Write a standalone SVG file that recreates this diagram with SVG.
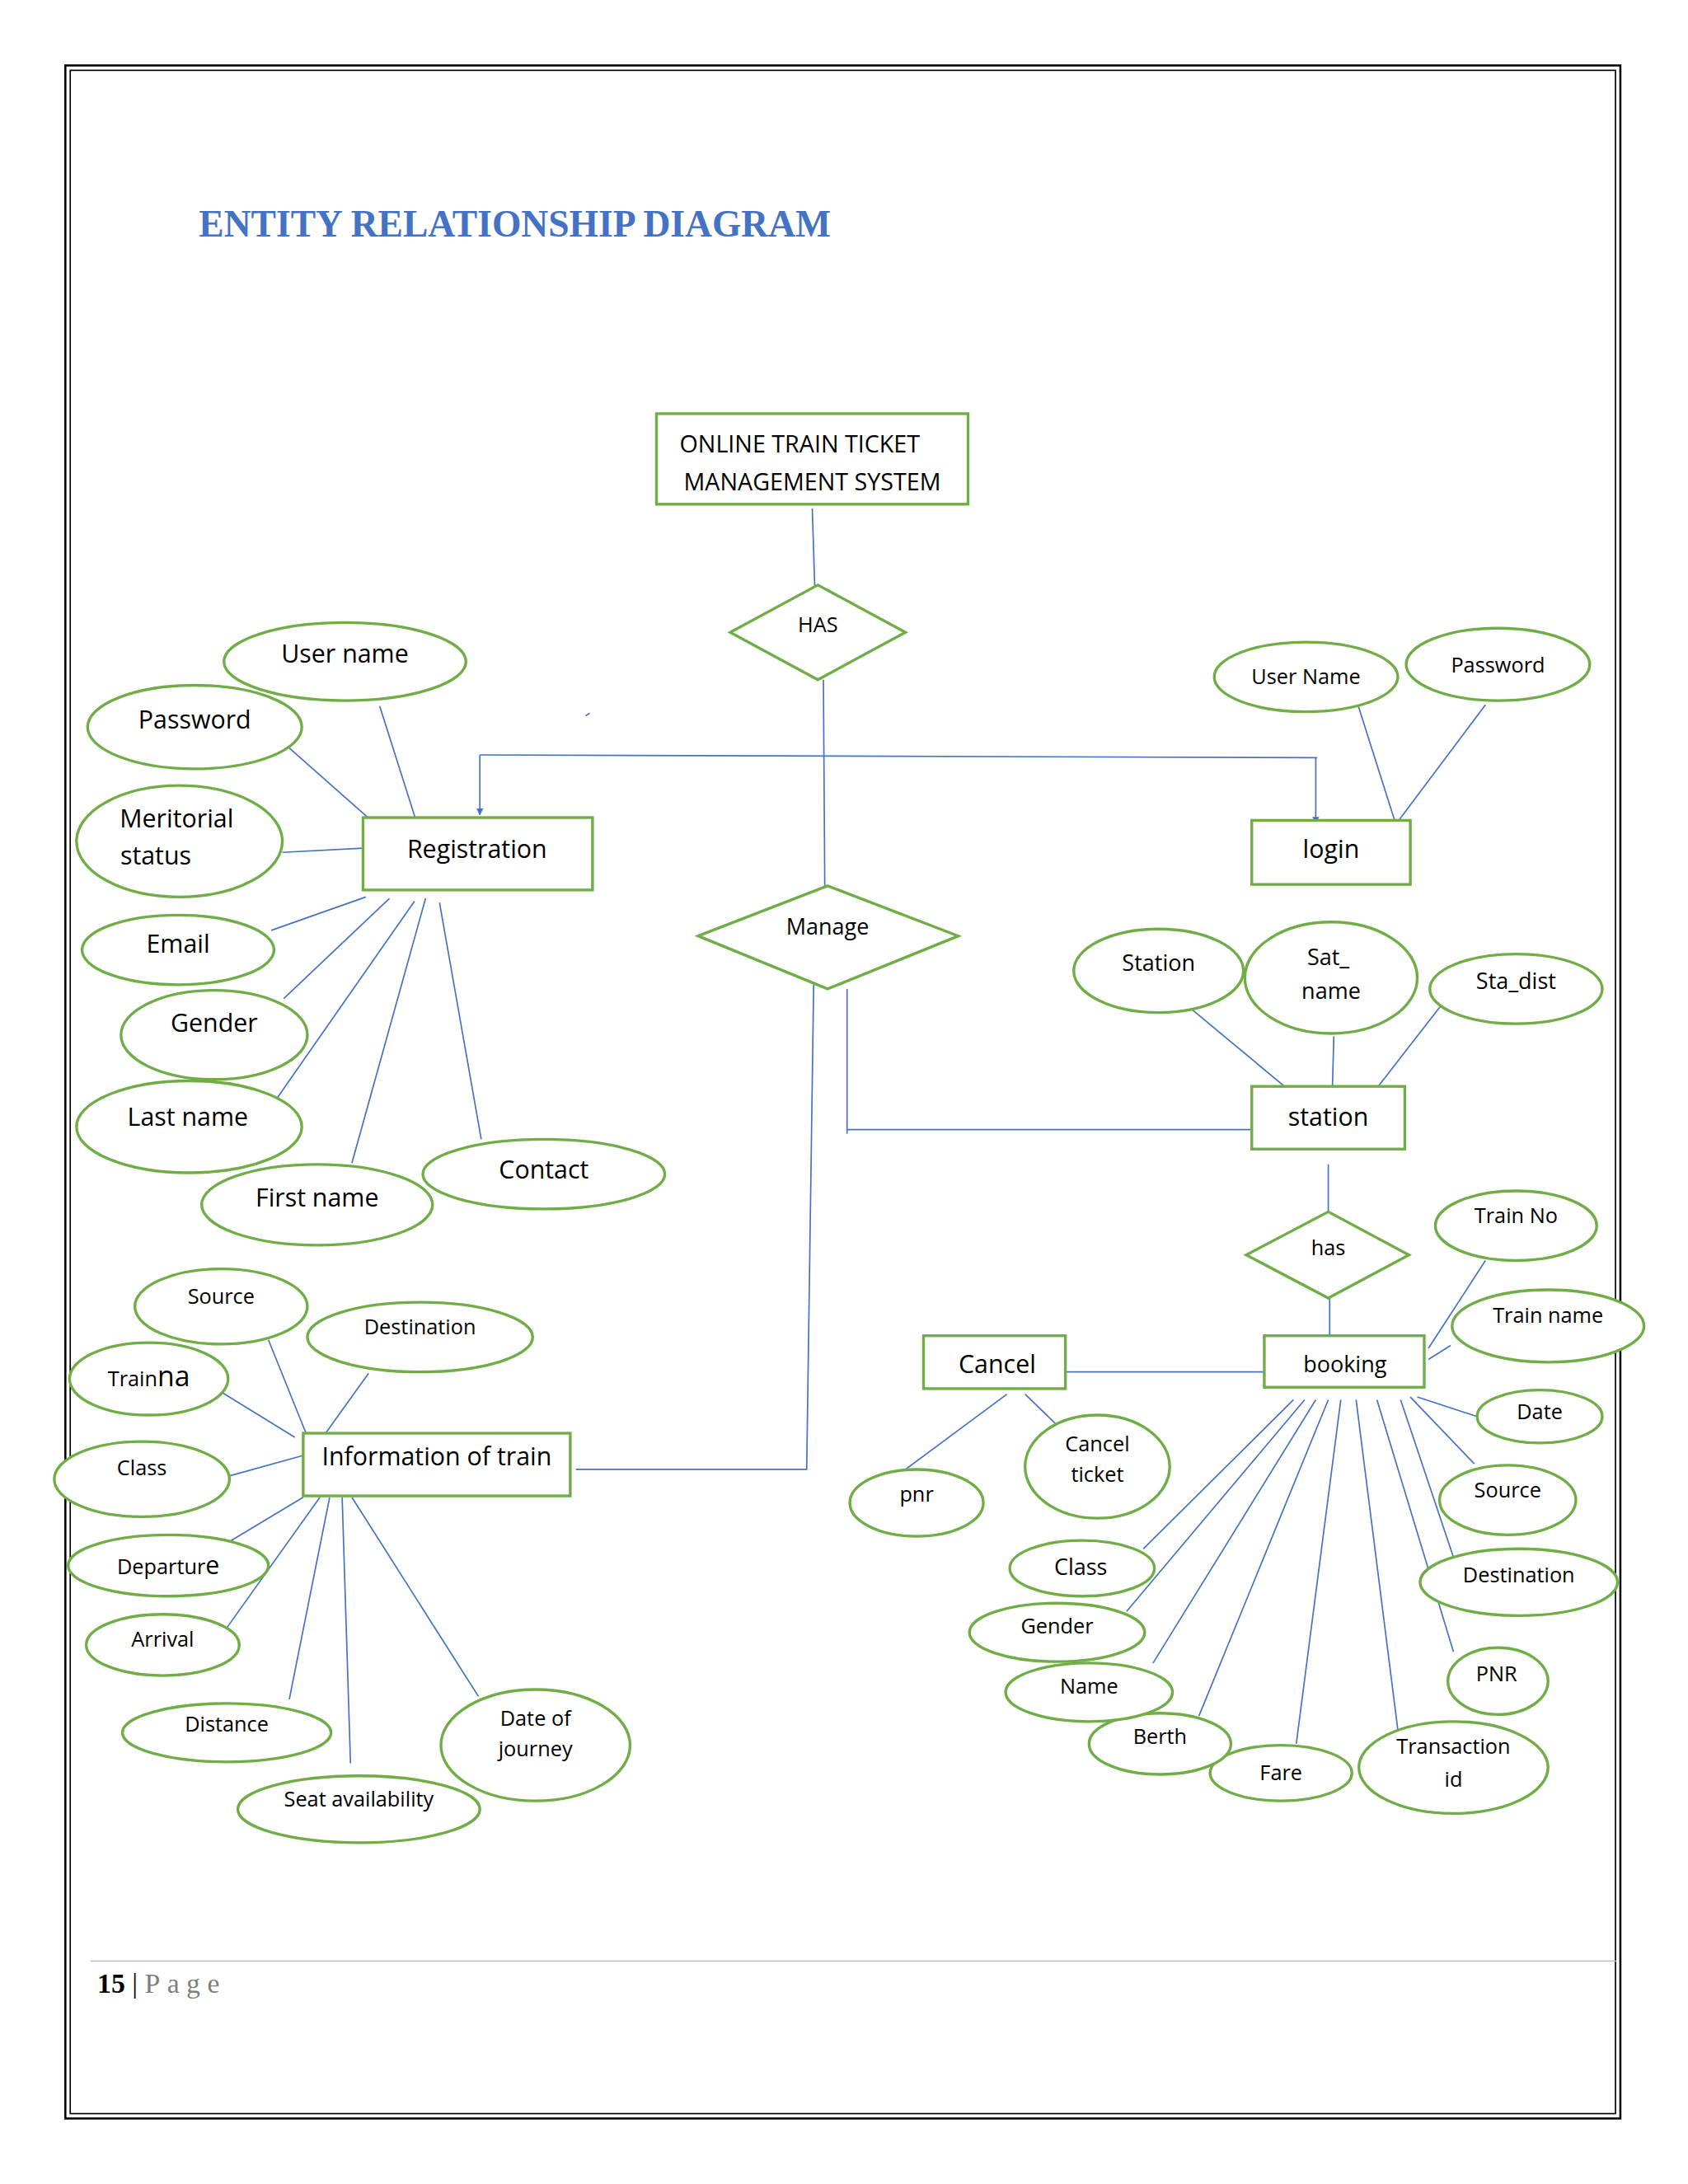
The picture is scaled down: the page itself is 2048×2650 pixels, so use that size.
<svg xmlns="http://www.w3.org/2000/svg" width="2048" height="2650" viewBox="0 0 2048 2650">
<style>
.e{fill:#fff;stroke:#70AD47;stroke-width:2}
.l{stroke:#4472C4;stroke-width:1;fill:none}
.t{font-family:"Open Sans","Liberation Sans",sans-serif;fill:#000;text-anchor:middle}
</style>
<defs><marker id="a" viewBox="0 0 10 10" refX="9" refY="5" markerWidth="5" markerHeight="5" orient="auto"><path d="M0,0L10,5L0,10z" fill="#4472C4"/></marker></defs>
<rect width="2048" height="2650" fill="#fff"/>
<g transform="scale(1.6875,1.69)">
<rect x="47" y="47" width="1118" height="1474" fill="none" stroke="#000" stroke-width="1.5"/>
<rect x="50.5" y="50.5" width="1111" height="1467" fill="none" stroke="#000" stroke-width="1"/>
<text x="143" y="170" font-family="Liberation Serif,serif" font-weight="bold" font-size="27" fill="#4472C4">ENTITY RELATIONSHIP DIAGRAM</text>
<g id="connectors">
<path class="l" d="M584,365L586,428M592,488L593,636M609,710L609,814M609,811H900M955,836V870M956,932V962M421,514l3,-2"/>
<path class="l" stroke-width="2" d="M345,542L947,544"/>
<path class="l" stroke-width="2" d="M345,542V585" marker-end="url(#a)"/>
<path class="l" stroke-width="2" d="M946,544V591" marker-end="url(#a)"/>
<path class="l" stroke-width="2.5" d="M585,707L580,1055H414"/>
<path class="l" stroke-width="3" d="M766,985H909"/>
<path class="l" d="M273,507L301,595M208,537L268,590M203,612L261,609M195,668L263,644M204,717L280,645M196,793L298,647M253,835L306,645M346,818L316,648"/>
<path class="l" d="M976,505L1003,590M1068,506L1005,590M850,719L932,787M959,744L958,780M1036,722L987,785"/>
<path class="l" d="M1068,905L1027,968M1043,966L1027,976M1019,1003L1062,1017M1014,1003L1060,1051M1007,1005L1045,1118M990,1005L1045,1186M975,1005L1005,1242M964,1005L932,1252M955,1005L862,1232M946,1005L829,1194M938,1005L810,1157M930,1005L822,1112"/>
<path class="l" d="M724,1001L651,1055M737,1001L765,1028"/>
<path class="l" d="M193,962L220,1029M265,986L232,1032M160,1000L212,1032M160,1061L218,1045M163,1108L218,1075M160,1173L230,1075M208,1220L237,1075M246,1075L252,1266M253,1075L344,1218"/>
</g>
<g id="system"><rect class="e" x="472" y="297" width="224" height="65"/><text class="t" x="575" y="325" font-size="17">ONLINE TRAIN TICKET</text><text class="t" x="584" y="352" font-size="17">MANAGEMENT SYSTEM</text></g>
<g id="has1"><polygon class="e" points="525,454 588,420 651,454 588,488"/><text class="t" x="588" y="454" font-size="15">HAS</text></g>
<g id="registration"><rect class="e" x="261" y="587" width="165" height="52"/><text class="t" x="343" y="616" font-size="18">Registration</text></g>
<g id="login"><rect class="e" x="900" y="589" width="114" height="46"/><text class="t" x="957" y="616" font-size="18">login</text></g>
<g id="manage"><polygon class="e" points="502,672 595,636 689,672 595,710"/><text class="t" x="595" y="671" font-size="16">Manage</text></g>
<g id="station"><rect class="e" x="900" y="780" width="110" height="45"/><text class="t" x="955" y="808" font-size="18">station</text></g>
<g id="has2"><polygon class="e" points="896,901 955,870 1013,901 955,932"/><text class="t" x="955" y="901" font-size="15">has</text></g>
<g id="booking"><rect class="e" x="909" y="959" width="115" height="37"/><text class="t" x="967" y="985" font-size="16">booking</text></g>
<g id="cancel"><rect class="e" x="664" y="959" width="102" height="38"/><text class="t" x="717" y="986" font-size="18">Cancel</text></g>
<g id="info"><rect class="e" x="218" y="1029" width="192" height="45"/><text class="t" x="314" y="1052" font-size="18">Information of train</text></g>
<g id="attrs" font-size="15">
<g><ellipse class="e" cx="248" cy="475" rx="87" ry="28"/><text class="t" x="248" y="476" font-size="18">User name</text></g>
<g><ellipse class="e" cx="140" cy="522" rx="77" ry="30"/><text class="t" x="140" y="523" font-size="18">Password</text></g>
<g><ellipse class="e" cx="129" cy="604" rx="74" ry="40"/><text class="t" x="127" y="594" font-size="18">Meritorial</text><text class="t" x="112" y="621" font-size="18">status</text></g>
<g><ellipse class="e" cx="128" cy="682" rx="69" ry="25"/><text class="t" x="128" y="684" font-size="18">Email</text></g>
<g><ellipse class="e" cx="154" cy="743" rx="67" ry="32"/><text class="t" x="154" y="741" font-size="18">Gender</text></g>
<g><ellipse class="e" cx="136" cy="809" rx="81" ry="33"/><text class="t" x="135" y="808" font-size="18">Last name</text></g>
<g><ellipse class="e" cx="228" cy="865" rx="83" ry="29"/><text class="t" x="228" y="866" font-size="18">First name</text></g>
<g><ellipse class="e" cx="391" cy="843" rx="87" ry="25"/><text class="t" x="391" y="846" font-size="18">Contact</text></g>
<g><ellipse class="e" cx="939" cy="486" rx="66" ry="25"/><text class="t" x="939" y="491" font-size="15">User Name</text></g>
<g><ellipse class="e" cx="1077" cy="477" rx="66" ry="26"/><text class="t" x="1077" y="483" font-size="15">Password</text></g>
<g><ellipse class="e" cx="833" cy="697" rx="61" ry="30"/><text class="t" x="833" y="697" font-size="16">Station</text></g>
<g><ellipse class="e" cx="957" cy="702" rx="62" ry="40"/><text class="t" x="955" y="693" font-size="16">Sat_</text><text class="t" x="957" y="717" font-size="16">name</text></g>
<g><ellipse class="e" cx="1090" cy="710" rx="62" ry="25"/><text class="t" x="1090" y="710" font-size="16">Sta_dist</text></g>
<g><ellipse class="e" cx="1090" cy="880" rx="58" ry="25"/><text class="t" x="1090" y="878" font-size="15">Train No</text></g>
<g><ellipse class="e" cx="1113" cy="952" rx="69" ry="26"/><text class="t" x="1113" y="950" font-size="15">Train name</text></g>
<g><ellipse class="e" cx="1107" cy="1017" rx="45" ry="19"/><text class="t" x="1107" y="1019" font-size="15">Date</text></g>
<g><ellipse class="e" cx="1084" cy="1077" rx="49" ry="25"/><text class="t" x="1084" y="1075" font-size="15">Source</text></g>
<g><ellipse class="e" cx="1092" cy="1136" rx="71" ry="24"/><text class="t" x="1092" y="1136" font-size="15">Destination</text></g>
<g><ellipse class="e" cx="1077" cy="1207" rx="36" ry="24"/><text class="t" x="1076" y="1207" font-size="15">PNR</text></g>
<g><ellipse class="e" cx="1045" cy="1269" rx="68" ry="33"/><text class="t" x="1045" y="1259" font-size="15">Transaction</text><text class="t" x="1045" y="1283" font-size="15">id</text></g>
<g><ellipse class="e" cx="921" cy="1273" rx="51" ry="20"/><text class="t" x="921" y="1278" font-size="15">Fare</text></g>
<g><ellipse class="e" cx="834" cy="1252" rx="51" ry="22"/><text class="t" x="834" y="1252" font-size="15">Berth</text></g>
<g><ellipse class="e" cx="783" cy="1215" rx="60" ry="21"/><text class="t" x="783" y="1216" font-size="15">Name</text></g>
<g><ellipse class="e" cx="760" cy="1172" rx="63" ry="21"/><text class="t" x="760" y="1173" font-size="15">Gender</text></g>
<g><ellipse class="e" cx="778" cy="1126" rx="52" ry="20"/><text class="t" x="777" y="1131" font-size="16">Class</text></g>
<g><ellipse class="e" cx="659" cy="1079" rx="48" ry="24"/><text class="t" x="659" y="1078" font-size="15">pnr</text></g>
<g><ellipse class="e" cx="789" cy="1053" rx="52" ry="37"/><text class="t" x="789" y="1042" font-size="15">Cancel</text><text class="t" x="789" y="1064" font-size="15">ticket</text></g>
<g><ellipse class="e" cx="159" cy="938" rx="62" ry="27"/><text class="t" x="159" y="936" font-size="15">Source</text></g>
<g><ellipse class="e" cx="302" cy="960" rx="81" ry="25"/><text class="t" x="302" y="958" font-size="15">Destination</text></g>
<g><ellipse class="e" cx="107" cy="990" rx="57" ry="26"/><text class="t" x="107" y="995" font-size="15">Train<tspan font-size="20">na</tspan></text></g>
<g><ellipse class="e" cx="102" cy="1062" rx="63" ry="27"/><text class="t" x="102" y="1059" font-size="15">Class</text></g>
<g><ellipse class="e" cx="121" cy="1124" rx="72" ry="22"/><text class="t" x="121" y="1130" font-size="15">Departur<tspan font-size="18">e</tspan></text></g>
<g><ellipse class="e" cx="117" cy="1181" rx="55" ry="22"/><text class="t" x="117" y="1182" font-size="15">Arrival</text></g>
<g><ellipse class="e" cx="163" cy="1244" rx="75" ry="21"/><text class="t" x="163" y="1243" font-size="15">Distance</text></g>
<g><ellipse class="e" cx="258" cy="1299" rx="87" ry="24"/><text class="t" x="258" y="1297" font-size="15">Seat availability</text></g>
<g><ellipse class="e" cx="385" cy="1253" rx="68" ry="40"/><text class="t" x="385" y="1239" font-size="15">Date of</text><text class="t" x="385" y="1261" font-size="15">journey</text></g>
</g>
<line x1="65" y1="1408" x2="1162" y2="1408" stroke="#bbb" stroke-width="1"/>
<text x="70" y="1431" font-family="Liberation Serif,serif" font-size="20"><tspan font-weight="bold">15</tspan> | <tspan fill="#7f7f7f" letter-spacing="5">Page</tspan></text>
</g>
</svg>
